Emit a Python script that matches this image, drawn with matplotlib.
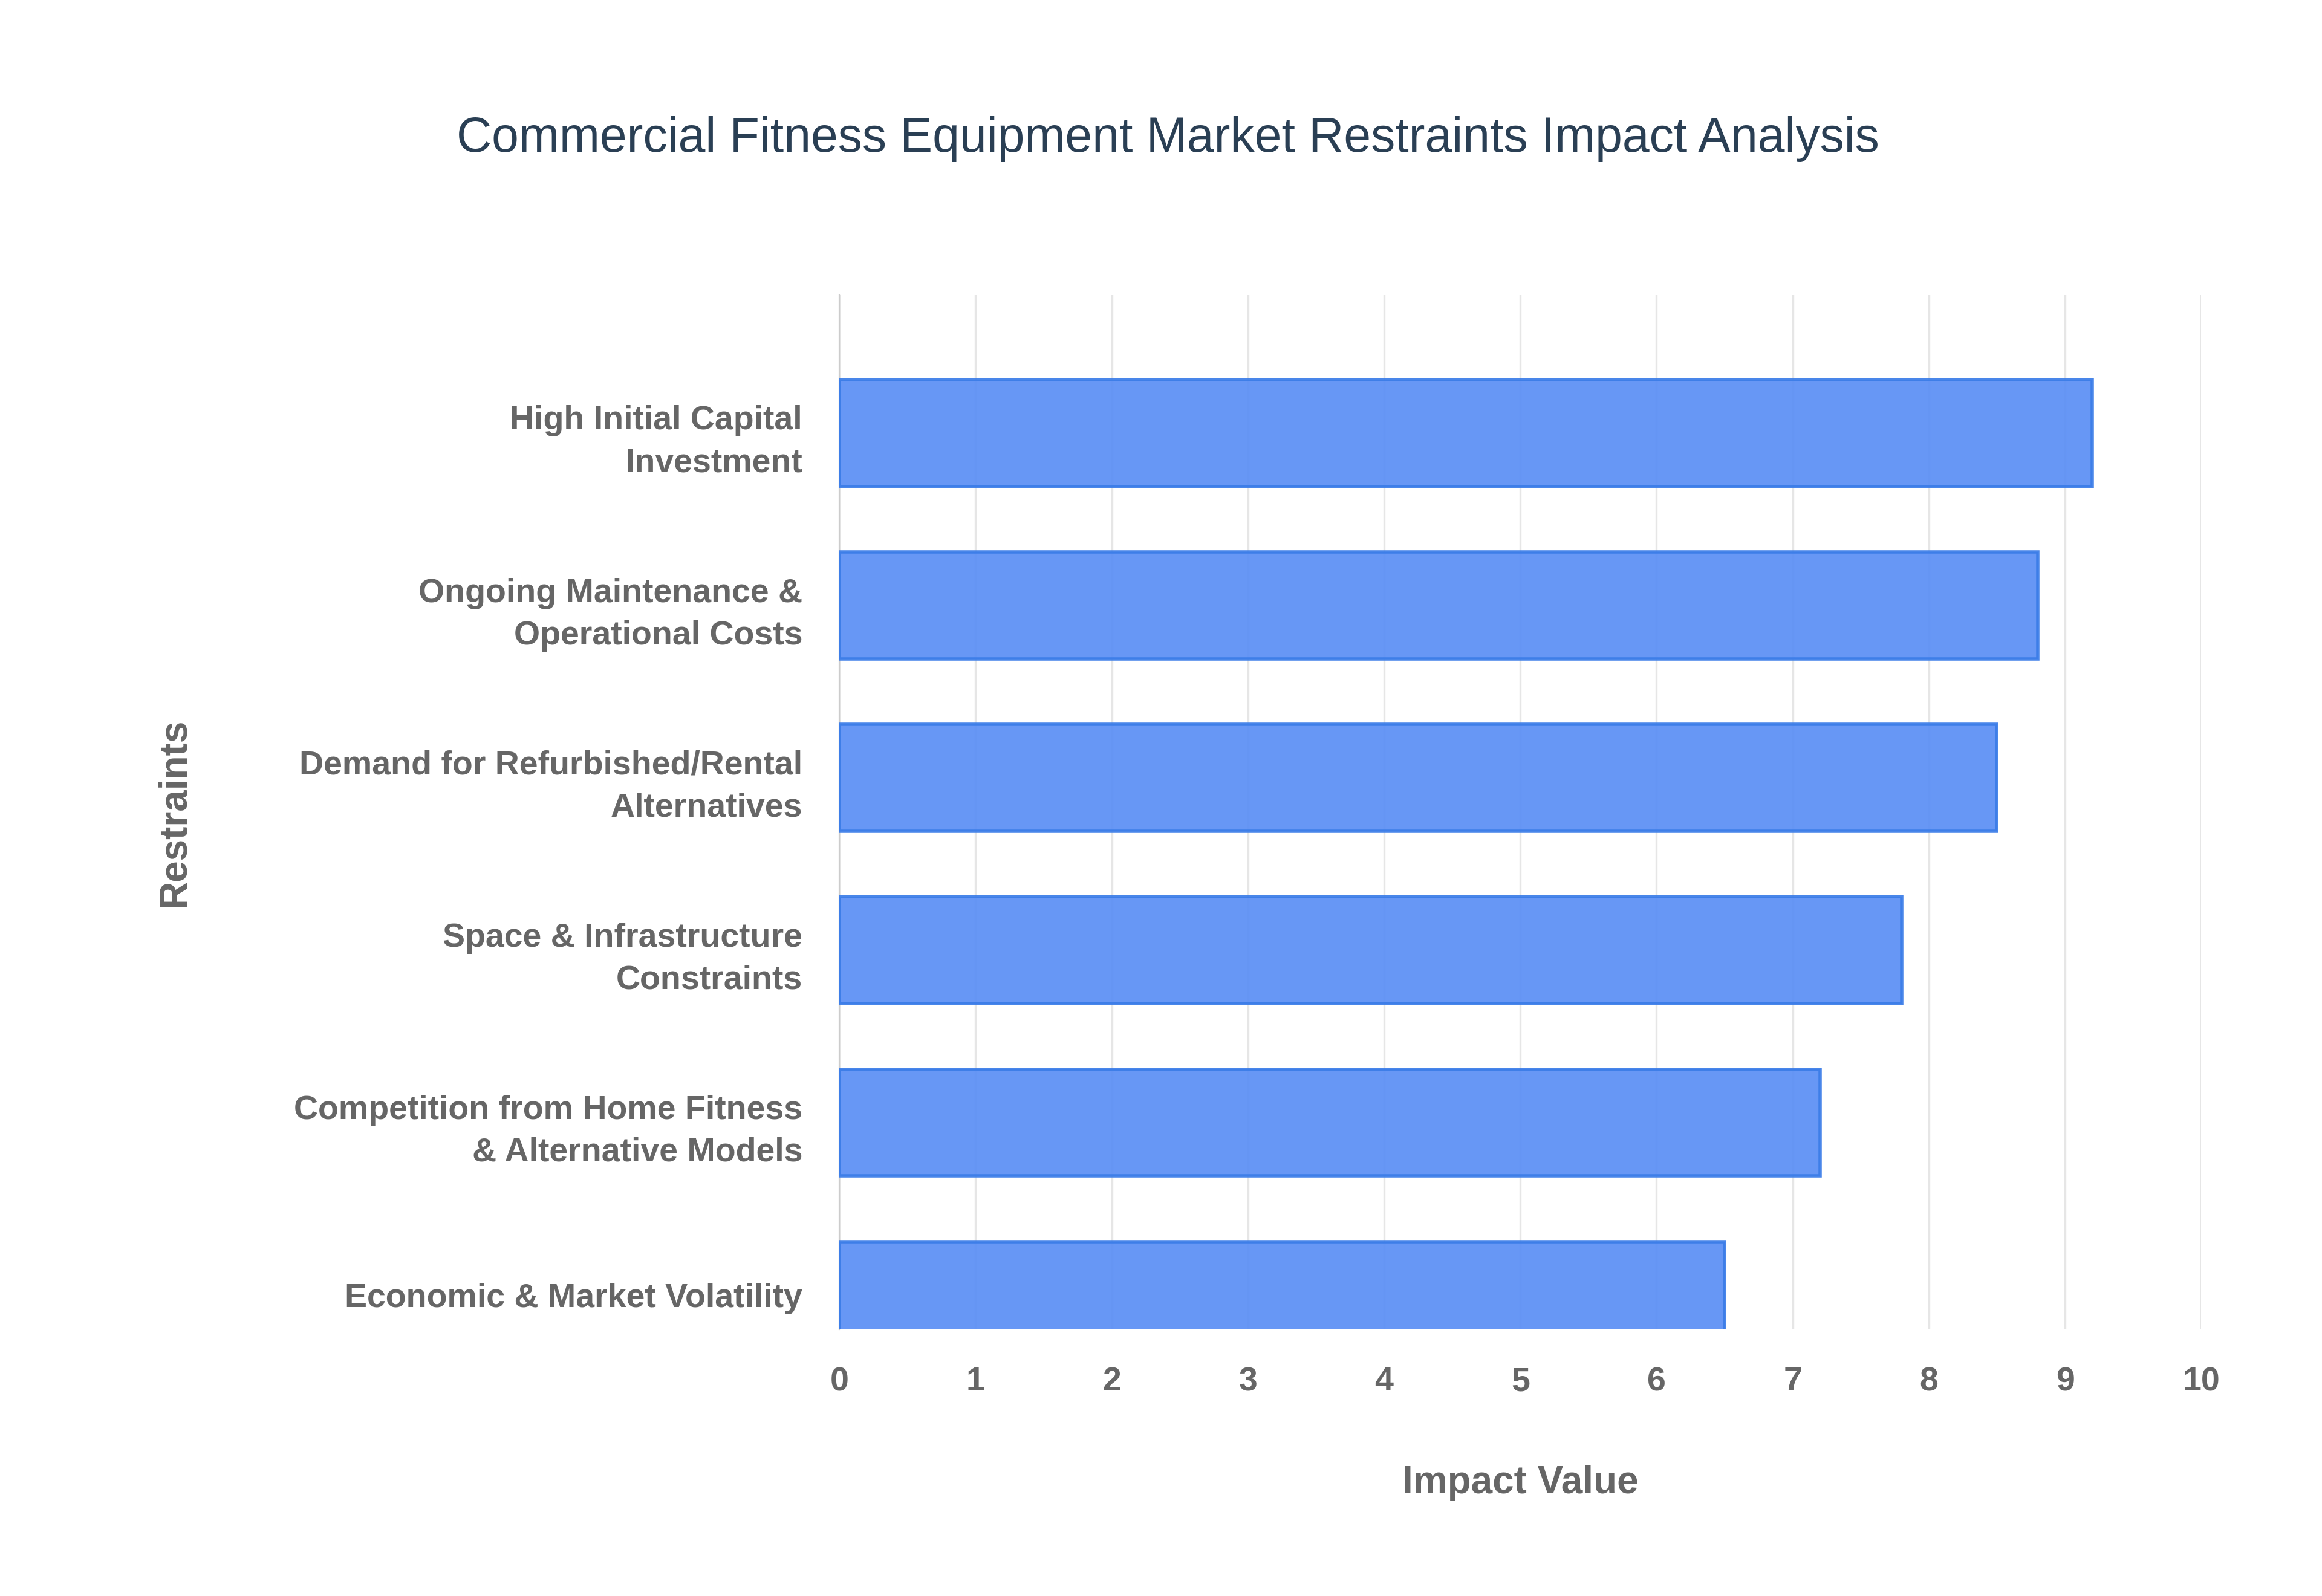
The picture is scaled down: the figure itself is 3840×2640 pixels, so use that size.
import matplotlib.pyplot as plt

restraints = [
    "High Initial Capital\nInvestment",
    "Ongoing Maintenance &\nOperational Costs",
    "Demand for Refurbished/Rental\nAlternatives",
    "Space & Infrastructure\nConstraints",
    "Competition from Home Fitness\n& Alternative Models",
    "Economic & Market Volatility",
]
impact = [9.2, 8.8, 8.5, 7.8, 7.2, 6.5]
x_ticks = list(range(0, 11))

plt.rcParams["font.family"] = ["Liberation Sans", "DejaVu Sans"]

fig = plt.figure(figsize=(19.2, 13.2), dpi=200)
ax = fig.add_axes([0.3615, 0.167, 0.5865, 0.648])

pos = list(range(len(restraints)))[::-1]
ax.barh(pos, impact, height=0.62, color="#5b8ff5", alpha=0.93,
        edgecolor="#3b7de8", linewidth=2, zorder=3)

ax.set_xlim(0, 10)
ax.set_ylim(-0.2, 5.8)
ax.set_xticks(x_ticks)
ax.set_yticks(pos)
ax.set_yticklabels(restraints, linespacing=1.45)
ax.grid(axis="x", color="#e6e6e6", linewidth=1.2, zorder=0)
for side in ["top", "right", "bottom"]:
    ax.spines[side].set_visible(False)
ax.spines["left"].set_color("#cccccc")
ax.tick_params(axis="both", length=0, labelsize=20, labelcolor="#666666")
ax.tick_params(axis="x", pad=22)
ax.tick_params(axis="y", pad=22)
for lbl in ax.get_xticklabels() + ax.get_yticklabels():
    lbl.set_fontweight("bold")

ax.set_xlabel("Impact Value", fontsize=23, fontweight="bold", color="#666666", labelpad=40)
ax.set_ylabel("Restraints", fontsize=23, fontweight="bold", color="#666666")
ax.yaxis.set_label_coords(-0.475, 0.5)

fig.text(0.503, 0.913, "Commercial Fitness Equipment Market Restraints Impact Analysis",
         ha="center", va="center", fontsize=29, color="#2a3f54")

fig.savefig("out.png", dpi=200)
